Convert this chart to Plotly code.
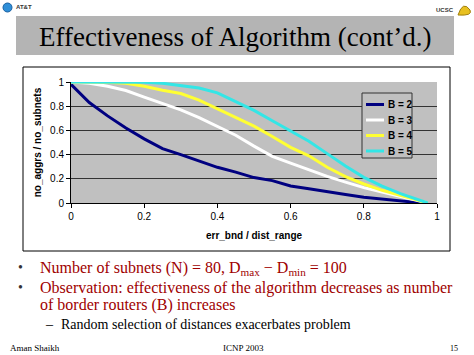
import plotly.graph_objects as go

# ---- data ----
x_vals = [0, 0.05, 0.1, 0.15, 0.2, 0.25, 0.3, 0.35, 0.4, 0.45, 0.5,
          0.55, 0.6, 0.65, 0.7, 0.75, 0.8, 0.85, 0.9, 0.95, 0.975]
b2 = [0.98, 0.83, 0.72, 0.62, 0.53, 0.45, 0.40, 0.345, 0.295, 0.255, 0.21,
      0.185, 0.14, 0.118, 0.092, 0.07, 0.048, 0.032, 0.015, 0.003, 0.0]
b3 = [1.0, 0.99, 0.965, 0.93, 0.875, 0.825, 0.77, 0.705, 0.635, 0.56, 0.47,
      0.385, 0.33, 0.275, 0.22, 0.172, 0.127, 0.09, 0.052, 0.02, 0.0]
b4 = [1.0, 1.0, 0.998, 0.99, 0.965, 0.932, 0.905, 0.85, 0.78, 0.71, 0.635,
      0.55, 0.46, 0.39, 0.295, 0.218, 0.157, 0.105, 0.062, 0.025, 0.0]
b5 = [1.0, 1.0, 1.0, 1.0, 0.997, 0.99, 0.972, 0.95, 0.91, 0.835, 0.765,
      0.68, 0.595, 0.51, 0.408, 0.305, 0.212, 0.14, 0.077, 0.03, 0.0]
series_names = ["B = 2", "B = 3", "B = 4", "B = 5"]
series_colors = ["#000080", "#ffffff", "#ffff33", "#33e6e6"]
tick_vals = [0, 0.2, 0.4, 0.6, 0.8, 1]
tick_text = ["0", "0.2", "0.4", "0.6", "0.8", "1"]

W, H = 474, 355
L, R, T, B = 71, 37, 82, 152
PW, PH = W - L - R, H - T - B


def px(x):
    return (x - L) / PW


def py(y):
    return (H - B - y) / PH


fig = go.Figure()
for name, ys, col in zip(series_names, [b2, b3, b4, b5], series_colors):
    fig.add_trace(go.Scatter(x=x_vals, y=ys, mode="lines", name=name,
                             line=dict(color=col, width=3), cliponaxis=False,
                             showlegend=False))

serif = "Liberation Serif, Times New Roman, serif"
sans = "Liberation Sans, Arial, sans-serif"

ann = []
# title
ann.append(dict(x=px(235), y=py(37), text="Effectiveness of Algorithm (cont\u2019d.)",
                font=dict(family=serif, size=27, color="black")))
# bullets
red = "#a00000"
ann.append(dict(x=px(20), y=py(267), text="\u2022", font=dict(family=serif, size=14, color="#333333")))
ann.append(dict(x=px(38), y=py(268), xanchor="left",
                text="Number of subnets (N) = 80, D<sub>max</sub> \u2212 D<sub>min</sub> = 100",
                font=dict(family=serif, size=16, color=red)))
ann.append(dict(x=px(20), y=py(287), text="\u2022", font=dict(family=serif, size=14, color="#333333")))
ann.append(dict(x=px(38), y=py(288), xanchor="left",
                text="Observation: effectiveness of the algorithm decreases as number",
                font=dict(family=serif, size=16, color=red)))
ann.append(dict(x=px(38), y=py(305), xanchor="left",
                text="of border routers (B) increases",
                font=dict(family=serif, size=16, color=red)))
ann.append(dict(x=px(43), y=py(324), xanchor="left",
                text="\u2013", font=dict(family=serif, size=14, color="black")))
ann.append(dict(x=px(59), y=py(324), xanchor="left",
                text="Random selection of distances exacerbates problem",
                font=dict(family=serif, size=14, color="black")))
# footer
ann.append(dict(x=px(8), y=py(348), xanchor="left", text="Aman Shaikh",
                font=dict(family=serif, size=9, color="black")))
ann.append(dict(x=px(243), y=py(348), text="ICNP 2003",
                font=dict(family=serif, size=9, color="black")))
ann.append(dict(x=px(460), y=py(348), xanchor="right", text="15",
                font=dict(family=serif, size=8, color="black")))
# logos text
ann.append(dict(x=px(14), y=py(7), xanchor="left", text="<b>AT&amp;T</b>",
                font=dict(family=sans, size=6, color="#333333")))
ann.append(dict(x=px(456), y=py(10), xanchor="right", text="<b>UCSC</b>",
                font=dict(family=sans, size=6, color="#333333")))

shapes = [
    # title band
    dict(type="rect", xref="paper", yref="paper", x0=px(16), x1=px(454),
         y0=py(16), y1=py(55), fillcolor="#b4b4b4", line=dict(width=0), layer="below"),
    # chart frame
    dict(type="rect", xref="paper", yref="paper", x0=px(23), x1=px(450),
         y0=py(67), y1=py(251), fillcolor="rgba(0,0,0,0)",
         line=dict(color="black", width=1), layer="below"),
    # AT&T globe
    dict(type="circle", xref="paper", yref="paper", x0=px(3), x1=px(12),
         y0=py(3), y1=py(12), fillcolor="#2f8fd8", line=dict(color="#1a5fa0", width=1)),
    # UCSC slug
    dict(type="path", xref="paper", yref="paper",
         path="M {} {} Q {} {} {} {} Q {} {} {} {} Z".format(
             px(458), py(15), px(463), py(0), px(470), py(10),
             px(473), py(16), px(458), py(15)),
         fillcolor="#e8c020", line=dict(color="#a08010", width=1)),
    # legend box
    dict(type="rect", xref="paper", yref="paper", x0=px(362), x1=px(412),
         y0=py(93), y1=py(158), fillcolor="#c0c0c0",
         line=dict(color="#333333", width=1)),
]
# legend entries (sample line + label)
row_y = [104.5, 120, 135.5, 151]
for name, col, ry in zip(series_names, series_colors, row_y):
    shapes.append(dict(type="line", xref="paper", yref="paper",
                       x0=px(366), x1=px(384), y0=py(ry), y1=py(ry),
                       line=dict(color=col, width=3)))
    ann.append(dict(x=px(386), y=py(ry), xanchor="left", text="<b>" + name + "</b>",
                    font=dict(family=sans, size=10, color="black")))

for a in ann:
    a.setdefault("xanchor", "center")
    a.update(xref="paper", yref="paper", yanchor="middle", showarrow=False)

fig.update_layout(
    width=W, height=H,
    margin=dict(l=L, r=R, t=T, b=B, autoexpand=False),
    paper_bgcolor="white", plot_bgcolor="#c0c0c0",
    showlegend=False,
    annotations=ann, shapes=shapes,
    font=dict(family=sans, color="black"),
)
fig.update_xaxes(range=[0, 1], tickvals=tick_vals, ticktext=tick_text,
                 showgrid=False, zeroline=False, showline=True, linecolor="black",
                 linewidth=1, ticks="outside", ticklen=4, tickcolor="black",
                 tickfont=dict(family=sans, size=10, color="black"),
                 title=dict(text="<b>err_bnd / dist_range</b>", standoff=10,
                            font=dict(family=sans, size=10, color="black")))
fig.update_yaxes(range=[0, 1], tickvals=tick_vals, ticktext=tick_text,
                 showgrid=True, gridcolor="#333333", gridwidth=1, zeroline=False,
                 showline=True, linecolor="black", linewidth=1, ticks="outside",
                 ticklen=4, tickcolor="black",
                 tickfont=dict(family=sans, size=10, color="black"),
                 title=dict(text="<b>no_aggrs / no_subnets</b>", standoff=6,
                            font=dict(family=sans, size=10, color="black")))

fig.write_html("out.html", config={"displayModeBar": False},
               post_script="document.body.style.margin='0px';")
